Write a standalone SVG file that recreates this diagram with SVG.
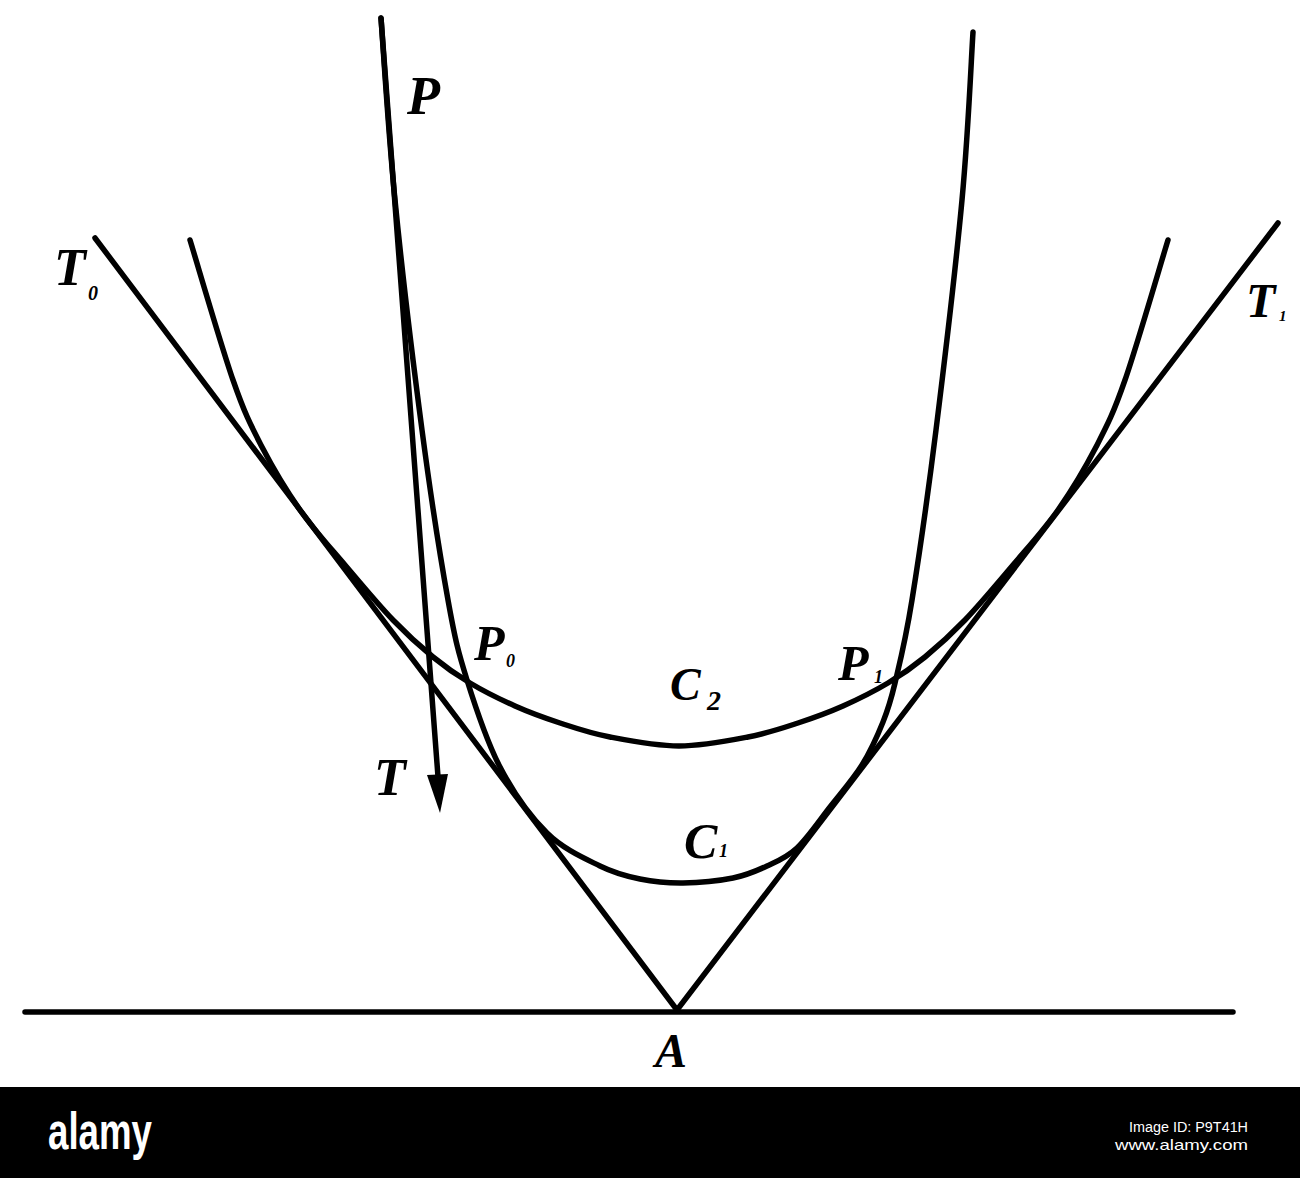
<svg xmlns="http://www.w3.org/2000/svg" width="1300" height="1178" viewBox="0 0 1300 1178">
<style>
.c{fill:none;stroke:#000;stroke-width:5.5;stroke-linecap:round;stroke-linejoin:round}
.lbl{font-family:"Liberation Serif",serif;font-style:italic;font-weight:bold;fill:#000}
.wm{font-family:"Liberation Sans",sans-serif;fill:#fff}
</style>
<rect x="0" y="0" width="1300" height="1178" fill="#fff"/>
<g id="connectors">
<path id="baseline" class="c" stroke-width="6" d="M25,1012 L1233,1012"/>
<path id="tangent-T0" class="c" d="M95,238 L677,1010"/>
<path id="tangent-T1" class="c" d="M677,1010 L1278,223"/>
<path id="tangent-PT" class="c" stroke-width="6" d="M381,18 L439,790"/>
<polygon id="arrow-T" points="427,775 448,774 440,813" fill="#000"/>
</g>
<g id="curve-C1">
<path class="c" d="M381,18 C383.3,48.3 388.2,131.3 395,200 C401.8,268.7 413.2,363.3 422,430 C430.8,496.7 440.5,558.3 448,600 C455.5,641.7 458.3,652.2 467,680 C475.7,707.8 486.7,741.5 500,767 C513.3,792.5 530.3,816.5 547,833 C563.7,849.5 584.5,858.3 600,866 C615.5,873.7 626.2,876.2 640,879 C653.8,881.8 667.5,883.2 683,883 C698.5,882.8 719,880.8 733,878 C747,875.2 756.3,871 767,866 C777.7,861 786.5,857.8 797,848 C807.5,838.2 819.2,820.8 830,807 C840.8,793.2 853.2,779.2 862,765 C870.8,750.8 877.5,735.7 883,722 C888.5,708.3 890.2,703.3 895,683 C899.8,662.7 905.2,642.2 912,600 C918.8,557.8 927.7,496.7 936,430 C944.3,363.3 955.8,266.3 962,200 C968.2,133.7 971.2,60 973,32"/>
</g>
<g id="curve-C2">
<path class="c" d="M190,240 C197.2,263.3 221,345.5 233,380 C245,414.5 250.8,425.3 262,447 C273.2,468.7 286.2,490.3 300,510 C313.8,529.7 329.5,546.7 345,565 C360.5,583.3 378.3,604.7 393,620 C407.7,635.3 420.2,646.5 433,657 C445.8,667.5 456.3,674.8 470,683 C483.7,691.2 500,699.3 515,706 C530,712.7 544.2,717.8 560,723 C575.8,728.2 590.2,733.2 610,737 C629.8,740.8 656,746 679,746 C702,746 728.2,740.8 748,737 C767.8,733.2 782.2,728.2 798,723 C813.8,717.8 828,712.7 843,706 C858,699.3 874.3,691.2 888,683 C901.7,674.8 912.2,667.5 925,657 C937.8,646.5 950.3,635.3 965,620 C979.7,604.7 997.5,583.3 1013,565 C1028.5,546.7 1044.2,529.7 1058,510 C1071.8,490.3 1084.8,468.7 1096,447 C1107.2,425.3 1113,414.5 1125,380 C1137,345.5 1160.8,263.3 1168,240"/>
</g>
<g id="label-P"><text class="lbl" x="407" y="114" font-size="54">P</text></g>
<g id="label-T0"><text class="lbl" x="54" y="285" font-size="52">T<tspan x="88" y="300" font-size="20">0</tspan></text></g>
<g id="label-P0"><text class="lbl" x="474" y="660" font-size="50">P<tspan x="506" y="667" font-size="18">0</tspan></text></g>
<g id="label-T"><text class="lbl" x="374" y="795" font-size="52">T</text></g>
<g id="label-C2"><text class="lbl" x="670" y="700" font-size="46">C<tspan x="707" y="710" font-size="28">2</tspan></text></g>
<g id="label-C1"><text class="lbl" x="684" y="858" font-size="50">C<tspan x="719" y="857" font-size="18">1</tspan></text></g>
<g id="label-P1"><text class="lbl" x="838" y="680" font-size="50">P<tspan x="874" y="683" font-size="18">1</tspan></text></g>
<g id="label-T1"><text class="lbl" x="1246" y="317" font-size="48">T<tspan x="1279" y="321" font-size="15">1</tspan></text></g>
<g id="label-A"><text class="lbl" x="655" y="1067" font-size="48">A</text></g>
<g id="watermark">
<rect x="0" y="1087" width="1300" height="91" fill="#000"/>
<text class="wm" x="48" y="1149" font-size="52" font-weight="bold" textLength="104" lengthAdjust="spacingAndGlyphs">alamy</text>
<text class="wm" x="1129" y="1132" font-size="14" textLength="119" lengthAdjust="spacingAndGlyphs">Image ID: P9T41H</text>
<text class="wm" x="1115" y="1150" font-size="15" textLength="133" lengthAdjust="spacingAndGlyphs">www.alamy.com</text>
</g>
</svg>
